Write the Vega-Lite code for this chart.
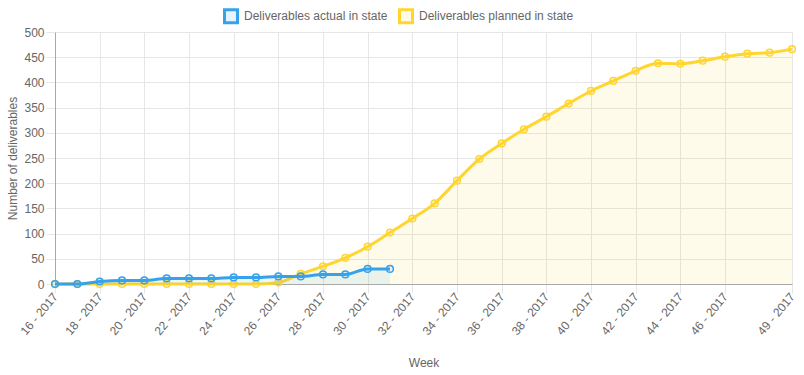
{
  "$schema": "https://vega.github.io/schema/vega-lite/v6.json",
  "width": 737,
  "height": 252,
  "autosize": {"type": "none"},
  "padding": {"left": 55, "top": 32, "right": 12, "bottom": 91},
  "config": {
    "view": {"stroke": null},
    "font": "Liberation Sans",
    "axis": {
      "labelFont": "Liberation Sans",
      "titleFont": "Liberation Sans",
      "labelFontSize": 12,
      "titleFontSize": 12,
      "labelColor": "#666666",
      "titleColor": "#666666",
      "titleFontWeight": "normal",
      "gridColor": "#e6e6e6",
      "tickColor": "#e6e6e6",
      "domainColor": "#a8a8a8",
      "tickSize": 9
    }
  },
  "data": {
    "values": [
      {"week": "16 - 2017", "series": "Deliverables actual in state", "value": 0},
      {"week": "17 - 2017", "series": "Deliverables actual in state", "value": 0},
      {"week": "18 - 2017", "series": "Deliverables actual in state", "value": 5},
      {"week": "19 - 2017", "series": "Deliverables actual in state", "value": 7},
      {"week": "20 - 2017", "series": "Deliverables actual in state", "value": 7},
      {"week": "21 - 2017", "series": "Deliverables actual in state", "value": 11},
      {"week": "22 - 2017", "series": "Deliverables actual in state", "value": 11},
      {"week": "23 - 2017", "series": "Deliverables actual in state", "value": 11},
      {"week": "24 - 2017", "series": "Deliverables actual in state", "value": 13},
      {"week": "25 - 2017", "series": "Deliverables actual in state", "value": 13},
      {"week": "26 - 2017", "series": "Deliverables actual in state", "value": 15},
      {"week": "27 - 2017", "series": "Deliverables actual in state", "value": 15},
      {"week": "28 - 2017", "series": "Deliverables actual in state", "value": 19},
      {"week": "29 - 2017", "series": "Deliverables actual in state", "value": 19},
      {"week": "30 - 2017", "series": "Deliverables actual in state", "value": 30},
      {"week": "31 - 2017", "series": "Deliverables actual in state", "value": 30},
      {"week": "16 - 2017", "series": "Deliverables planned in state", "value": 0},
      {"week": "17 - 2017", "series": "Deliverables planned in state", "value": 0},
      {"week": "18 - 2017", "series": "Deliverables planned in state", "value": 0},
      {"week": "19 - 2017", "series": "Deliverables planned in state", "value": 0},
      {"week": "20 - 2017", "series": "Deliverables planned in state", "value": 0},
      {"week": "21 - 2017", "series": "Deliverables planned in state", "value": 0},
      {"week": "22 - 2017", "series": "Deliverables planned in state", "value": 0},
      {"week": "23 - 2017", "series": "Deliverables planned in state", "value": 0},
      {"week": "24 - 2017", "series": "Deliverables planned in state", "value": 0},
      {"week": "25 - 2017", "series": "Deliverables planned in state", "value": 0},
      {"week": "26 - 2017", "series": "Deliverables planned in state", "value": 3},
      {"week": "27 - 2017", "series": "Deliverables planned in state", "value": 20},
      {"week": "28 - 2017", "series": "Deliverables planned in state", "value": 35},
      {"week": "29 - 2017", "series": "Deliverables planned in state", "value": 52},
      {"week": "30 - 2017", "series": "Deliverables planned in state", "value": 74},
      {"week": "31 - 2017", "series": "Deliverables planned in state", "value": 102},
      {"week": "32 - 2017", "series": "Deliverables planned in state", "value": 130},
      {"week": "33 - 2017", "series": "Deliverables planned in state", "value": 160},
      {"week": "34 - 2017", "series": "Deliverables planned in state", "value": 205},
      {"week": "35 - 2017", "series": "Deliverables planned in state", "value": 248},
      {"week": "36 - 2017", "series": "Deliverables planned in state", "value": 279},
      {"week": "37 - 2017", "series": "Deliverables planned in state", "value": 307},
      {"week": "38 - 2017", "series": "Deliverables planned in state", "value": 332},
      {"week": "39 - 2017", "series": "Deliverables planned in state", "value": 358},
      {"week": "40 - 2017", "series": "Deliverables planned in state", "value": 383},
      {"week": "41 - 2017", "series": "Deliverables planned in state", "value": 403},
      {"week": "42 - 2017", "series": "Deliverables planned in state", "value": 423},
      {"week": "43 - 2017", "series": "Deliverables planned in state", "value": 438},
      {"week": "44 - 2017", "series": "Deliverables planned in state", "value": 437},
      {"week": "45 - 2017", "series": "Deliverables planned in state", "value": 443},
      {"week": "46 - 2017", "series": "Deliverables planned in state", "value": 451},
      {"week": "47 - 2017", "series": "Deliverables planned in state", "value": 457},
      {"week": "48 - 2017", "series": "Deliverables planned in state", "value": 459},
      {"week": "49 - 2017", "series": "Deliverables planned in state", "value": 466}
    ]
  },
  "encoding": {
    "x": {
      "field": "week",
      "type": "ordinal",
      "scale": {"type": "point", "padding": 0},
      "sort": null,
      "axis": {
        "title": "Week",
        "values": ["16 - 2017", "18 - 2017", "20 - 2017", "22 - 2017", "24 - 2017", "26 - 2017", "28 - 2017", "30 - 2017", "32 - 2017", "34 - 2017", "36 - 2017", "38 - 2017", "40 - 2017", "42 - 2017", "44 - 2017", "46 - 2017", "49 - 2017"],
        "grid": true,
        "labelAngle": -50,
        "labelAlign": "right",
        "labelBaseline": "middle",
        "labelPadding": 1,
        "labelOverlap": false,
        "labelFlush": false,
        "titleY": 78,
        "titleBaseline": "middle"
      }
    },
    "y": {
      "field": "value",
      "type": "quantitative",
      "scale": {"domain": [0, 500], "nice": false},
      "axis": {
        "title": "Number of deliverables",
        "values": [0, 50, 100, 150, 200, 250, 300, 350, 400, 450, 500],
        "grid": true,
        "labelPadding": 2,
        "titleX": -43,
        "titleBaseline": "middle"
      }
    },
    "color": {
      "field": "series",
      "type": "nominal",
      "scale": {
        "domain": ["Deliverables actual in state", "Deliverables planned in state"],
        "range": ["#36a2eb", "#ffd52e"]
      },
      "legend": {
        "title": null,
        "orient": "none",
        "legendX": 168,
        "legendY": -24,
        "direction": "horizontal",
        "symbolType": "square",
        "symbolSize": 169,
        "symbolStrokeWidth": 3,
        "labelFont": "Liberation Sans",
        "labelFontSize": 12,
        "labelColor": "#666666",
        "labelOffset": 5,
        "columnPadding": 5,
        "padding": 0,
        "encode": {
          "symbols": {
            "update": {
              "fill": {"scale": "color", "field": "value"},
              "fillOpacity": {"value": 0.12}
            }
          }
        }
      }
    }
  },
  "layer": [
    {
      "transform": [{"filter": "datum.series === 'Deliverables planned in state'"}],
      "mark": {"type": "area", "interpolate": "monotone", "opacity": 0.1},
      "encoding": {"y": {"field": "value", "type": "quantitative", "stack": null}}
    },
    {
      "transform": [{"filter": "datum.series === 'Deliverables planned in state'"}],
      "mark": {"type": "line", "interpolate": "monotone", "strokeWidth": 3}
    },
    {
      "transform": [{"filter": "datum.series === 'Deliverables planned in state'"}],
      "mark": {"type": "point", "shape": "circle", "size": 45, "strokeWidth": 1.5, "filled": false, "fill": "#ffd52e", "fillOpacity": 0.12, "opacity": 1}
    },
    {
      "transform": [{"filter": "datum.series === 'Deliverables actual in state'"}],
      "mark": {"type": "area", "interpolate": "monotone", "opacity": 0.1},
      "encoding": {"y": {"field": "value", "type": "quantitative", "stack": null}}
    },
    {
      "transform": [{"filter": "datum.series === 'Deliverables actual in state'"}],
      "mark": {"type": "line", "interpolate": "monotone", "strokeWidth": 3}
    },
    {
      "transform": [{"filter": "datum.series === 'Deliverables actual in state'"}],
      "mark": {"type": "point", "shape": "circle", "size": 45, "strokeWidth": 1.5, "filled": false, "fill": "#36a2eb", "fillOpacity": 0.12, "opacity": 1}
    }
  ]
}
